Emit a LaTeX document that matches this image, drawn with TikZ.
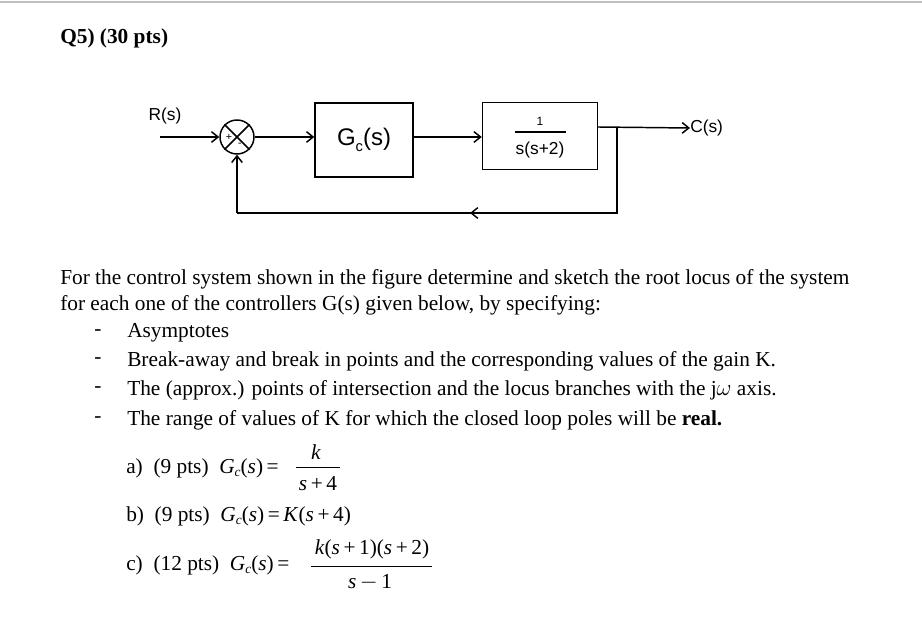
\documentclass[tikz,border=0pt]{standalone}
\usepackage{fontspec}
\setmainfont{Liberation Serif}
\newfontfamily\hand{Liberation Sans}
\usetikzlibrary{arrows.meta}
\tikzset{
  blk/.style={draw,line width=1.1pt},
  sig/.style={line width=1.1pt,-{Straight Barb[length=5pt,width=8pt]}},
  wire/.style={line width=1.1pt},
  txt/.style={anchor=west,inner sep=0pt,font=\fontsize{16pt}{18pt}\selectfont},
  mth/.style={inner sep=0pt,font=\fontsize{16pt}{18pt}\selectfont},
  hw/.style={inner sep=0pt,font=\hand\fontsize{13pt}{15pt}\selectfont}
}
\newcommand{\iv}[1]{\textit{#1}}
\newcommand{\Gcs}{\iv{G}\raisebox{-0.3ex}{\fontsize{10pt}{11pt}\selectfont\iv{c}}(\iv{s})}
\begin{document}
\begin{tikzpicture}[x=0.75pt,y=-0.75pt]
\useasboundingbox (0,0) rectangle (922,638);
\draw[gray!50,line width=0.8pt] (0,2) -- (922,2);
\node[txt,font=\bfseries\fontsize{16pt}{18pt}\selectfont] (title) at (60,38) {Q5) (30 pts)};
% block diagram
\node[hw] (R) at (165,116) {R(s)};
\coordinate (in) at (160,137);
\node[draw,circle,line width=1.1pt,minimum size=34pt*0.75,inner sep=0pt] (sum) at (237,137) {};
\draw[line width=1.1pt] (sum.north east) -- (sum.south west) (sum.north west) -- (sum.south east);
\node[hw,font=\hand\fontsize{8pt}{9pt}\selectfont] (plus) at (229,137) {+};
\node[hw,font=\hand\fontsize{8pt}{9pt}\selectfont] (minus) at (240,145) {-};
\node[blk,minimum width=98pt*0.75,minimum height=74pt*0.75] (gc) at (364,140) {\hand\fontsize{18pt}{20pt}\selectfont G\raisebox{-0.5ex}{\fontsize{11pt}{12pt}\selectfont c}(s)};
\node[blk,minimum width=115pt*0.75,minimum height=67pt*0.75] (pl) at (540,136) {};
\node[hw,font=\hand\fontsize{9pt}{10pt}\selectfont] (num) at (540,121) {1};
\draw[line width=1pt] (515,132) -- (566,132);
\node[hw] (den) at (540,150) {s(s+2)};
\node[hw,anchor=west] (C) at (690,128) {C(s)};
\coordinate (tap) at (617,127);
\coordinate (fb1) at (617,213);
\coordinate (fb2) at (237,213);
\draw[sig] (in) -- (sum);
\draw[sig] (sum) -- (gc.west |- sum);
\draw[sig] (gc.east |- 137,137) -- (pl.west |- 137,137);
\draw[sig] (pl.east |- tap) -- (C.west);
\draw[wire] (tap) -- (fb1) -- (fb2);
\draw[sig] (fb2) -- (sum.south);
\draw[line width=1.1pt,-{Straight Barb[length=5pt,width=8pt]}] (490,213) -- (470,213);
% text
\node[txt] (p1) at (60,279) {For the control system shown in the figure determine and sketch the root locus of the system};
\node[txt] (p2) at (60,305) {for each one of the controllers G(s) given below, by specifying:};
\foreach \y/\t [count=\i] in {333/Asymptotes,361/Break-away and break in points and the corresponding values of the gain K.,390/The (approx.) points of intersection and the locus branches with the j$\omega$ axis.,420/{The range of values of K for which the closed loop poles will be \textbf{real.}}}{
  \node[txt] (d\i) at (94,\y) {-};
  \node[txt] (b\i) at (127,\y) {\t};
}
\node[txt] (a) at (126,468) {a)\ \ (9 pts)\ \ \Gcs\,=};
\node[mth] (an) at (316,452) {\iv{k}};
\draw[line width=0.6pt] (296,467) -- (340,467);
\node[mth] (ad) at (318,484) {\iv{s}\,+\,4};
\node[txt] (b) at (126,516) {b)\ \ (9 pts)\ \ \Gcs\,=\,\iv{K}(\iv{s}\,+\,4)};
\node[txt] (c) at (126,565) {c)\ \ (12 pts)\ \ \Gcs\,=};
\node[mth] (cn) at (372,549) {\iv{k}(\iv{s}\,+\,1)(\iv{s}\,+\,2)};
\draw[line width=0.6pt] (311,566) -- (432,566);
\node[mth] (cd) at (370,582) {\iv{s}\,$-$\,1};
\end{tikzpicture}
\end{document}
